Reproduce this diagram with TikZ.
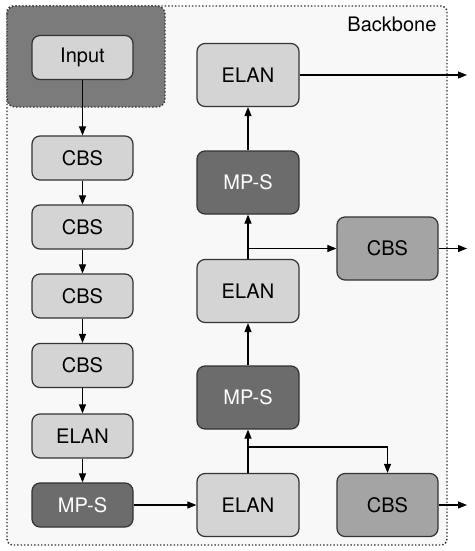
\documentclass[tikz,border=0pt]{standalone}
\usepackage{fontspec}
\setmainfont{TeX Gyre Heros}
\usetikzlibrary{arrows.meta}
\definecolor{boxlight}{HTML}{D4D4D4}
\definecolor{boxmid}{HTML}{A4A4A4}
\definecolor{boxdark}{HTML}{6C6C6C}
\definecolor{inputbg}{HTML}{7B7B7B}
\definecolor{backbg}{HTML}{F8F8F8}
\definecolor{edge}{HTML}{333333}

\begin{document}
\begin{tikzpicture}[x=1pt,y=-1pt,
  block/.style={draw=edge,line width=1.2pt,rounded corners=8pt,
    font=\fontsize{20}{24}\selectfont,inner sep=0pt},
  small/.style={block,minimum width=101pt,minimum height=44pt},
  big/.style={block,minimum width=102pt,minimum height=63pt},
  light/.style={fill=boxlight},
  mid/.style={fill=boxmid},
  dark/.style={fill=boxdark,text=white},
  link/.style={line width=1.1pt,-{Triangle[length=9pt,width=7pt]}}]
\useasboundingbox (0,0) rectangle (474,551);
\draw[dotted,line width=1.4pt,draw=edge,fill=backbg,rounded corners=6pt] (7,6) rectangle (447,545); %backbone
\draw[dotted,line width=1.4pt,draw=edge,fill=inputbg,rounded corners=8pt] (7,6) rectangle (165,107); %input area
\node[anchor=east,font=\fontsize{20}{24}\selectfont] (title) at (440,24) {Backbone};
% left column
\node[small,light] (input) at (82.5,57.5) {Input};
\node[small,light] (cbs1) at (82.5,158) {CBS};
\node[small,light] (cbs2) at (82.5,227) {CBS};
\node[small,light] (cbs3) at (82.5,296) {CBS};
\node[small,light] (cbs4) at (82.5,365.5) {CBS};
\node[small,light] (elan1) at (82.5,436) {ELAN};
\node[small,dark] (mps1) at (82.5,505) {MP-S};
% middle column
\node[big,light] (elan2) at (248,505) {ELAN};
\node[big,dark] (mps2) at (248,397.5) {MP-S};
\node[big,light] (elan3) at (248,291) {ELAN};
\node[big,dark] (mps3) at (248,182.5) {MP-S};
\node[big,light] (elan4) at (248,75) {ELAN};
% right column
\node[small,mid,minimum height=63pt] (cbs5) at (387.5,505) {CBS};
\node[small,mid,minimum height=63pt] (cbs6) at (387.5,248.5) {CBS};
% outputs
\coordinate (out1) at (467,75);
\coordinate (out2) at (467,248.5);
\coordinate (out3) at (467,505);
\coordinate (split1) at (248,447);
\coordinate (split2) at (248,248.5);
\foreach \a/\b in {input/cbs1,cbs1/cbs2,cbs2/cbs3,cbs3/cbs4,cbs4/elan1,elan1/mps1}
  \draw[link] (\a) -- (\b);
\draw[link] (mps1) -- (elan2);
\draw[link] (elan2) -- (mps2);
\draw[link] (split1) -| (cbs5.north); %branch
\draw[link] (mps2) -- (elan3);
\draw[link] (elan3) -- (mps3);
\draw[link] (split2) -- (cbs6.west); %branch
\draw[link] (mps3) -- (elan4);
\draw[link] (elan4.east) -- (out1);
\draw[link] (cbs6.east) -- (out2);
\draw[link] (cbs5.east) -- (out3);
\end{tikzpicture}
\end{document}
